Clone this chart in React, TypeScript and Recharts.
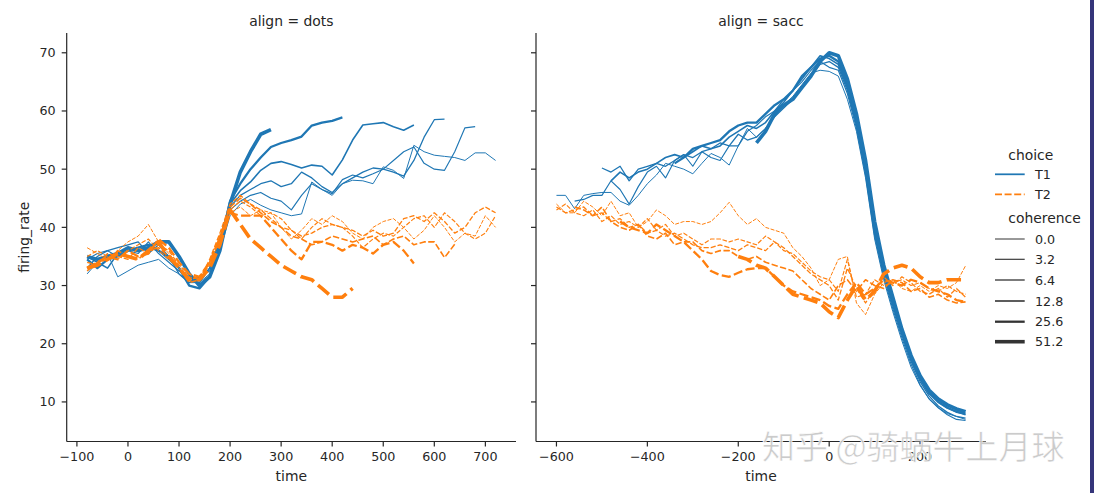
import React from "react";
import { LineChart, Line, XAxis, YAxis } from "recharts";

const N = null;

// ---- time axes ----
const dotsTime = [-80,-60,-40,-20,0,20,40,60,80,100,120,140,160,180,200,220,240,260,280,300,320,340,360,380,400,420,440,460,480,500,520,540,560,580,600,620,640,660,680,700,720];
const saccTime = [-600,-580,-560,-540,-520,-500,-480,-460,-440,-420,-400,-380,-360,-340,-320,-300,-280,-260,-240,-220,-200,-180,-160,-140,-120,-100,-80,-60,-40,-20,0,20,40,60,80,100,120,140,160,180,200,220,240,260,280,300];

const dotsTicks = [-100,0,100,200,300,400,500,600,700];
const saccTicks = [-600,-400,-200,0,200];
const yTicks = [10,20,30,40,50,60,70];
const coherenceLabels = ["0.0","3.2","6.4","12.8","25.6","51.2"];
const choiceLabels = ["T1","T2"];

// ---- align = dots, choice T1 ----
const dotsT1_00 = [32,34,35.5,31.5,32.5,33.5,34,34.5,33,32,30.5,30.5,32,36,42,44,44.8,43.8,43,42.5,42,42.3,47.8,46.5,45.5,47.5,48.1,48,47.5,50.4,49.8,48.4,54.1,53,52.4,52.2,52,51.5,52.8,52.8,51.5];
const dotsT1_32 = [34.5,35.5,36,35,36,35.5,37.5,35.5,34,32.5,31.5,31,33,37.5,43,44.5,45.5,46,45,44.5,43,45.5,47.5,46.5,45.8,48.2,49,48.5,49.2,50,51.5,53,53.8,51,50,49.8,53,57.1,57.3,N,N];
const dotsT1_64 = [33,35,36,36.5,37,37.5,35.5,37,35,32,30.5,31.5,32.5,37,43.5,45.5,46.5,47.5,48,47,47.5,49.5,48.5,47,46,47.5,48.5,49.5,50.2,50,49.5,48.8,51.5,55.5,58.5,58.6,N,N,N,N,N];
const dotsT1_128 = [35,34,33,35.5,36.5,36,36.5,36,34.5,33,31,30.5,33,38,44,46.3,47.8,49.8,51,51.3,50.8,50.2,50.7,50.5,49,51.6,55,57.6,57.8,58,57.3,56.7,57.6,N,N,N,N,N,N,N,N];
const dotsT1_256 = [34.5,33,34.5,35,36,36.5,37,36,35,33,30,29.5,31.5,37,44.5,47.5,50,52,53.8,54.5,55,55.6,57.5,58,58.3,58.9,N,N,N,N,N,N,N,N,N,N,N,N,N,N,N];
const dotsT1_512 = [35,34.5,35,35.5,36.5,36,36.5,37.5,37.5,35,32,30,31.5,36,44,49.5,53,56,56.8,N,N,N,N,N,N,N,N,N,N,N,N,N,N,N,N,N,N,N,N,N,N];

// ---- align = dots, choice T2 ----
const dotsT2_00 = [36.5,35.5,34.5,36,37.5,38.5,40.5,37.5,35.5,33.5,31.5,31,33.5,38,42.5,43.5,42,43,42.5,40,38,39.5,41.5,40.5,42,41,39,38,40,41,41.5,40,38,39.5,42,40,37.5,39,38.5,42,40];
const dotsT2_32 = [35,36,35,34.5,36,37,38,36,34.5,33,31,31.5,34,38.5,43,44.5,43.5,42,42.5,41.5,39.5,38,40,41.5,40.5,40,38.5,36.5,38,39,38.5,40,41.5,42,40,42.5,41,39,38,39,42];
const dotsT2_64 = [34,33.5,35.5,35,34.5,36.5,35.5,37,36,33.5,32,31,34.5,39,44,45.5,44,43,41.5,40,39.5,38.5,39,40,40.5,40,39.5,38.5,39.5,38.5,39,41.5,42,41,42.5,41,39,40,42.5,43.5,42.5];
const dotsT2_128 = [32.5,34,34.5,36,35,34.5,36,36.5,35,33,30.5,31,34,38.5,43.5,45,44,42.5,41,40,38.5,38,37,37.5,38.5,38,37.5,38,38.5,37,38,38.5,37,37.5,37.5,34.8,37.1,N,N,N,N];
const dotsT2_256 = [33,34,35,34.5,36,35,35.5,38,36.5,34,32,31.5,34,38,42.5,42,42,42,40,38,36,34.5,37.5,37.5,37,36,37,36.5,35.5,37,37.5,36,33.8,N,N,N,N,N,N,N,N];
const dotsT2_512 = [33,33.5,34.5,35.5,35,34.5,36,37.5,35,33,31,31,33,37,43,40.5,38,36.5,35,33.5,32.5,31.5,31,29.5,28,28,29.5,N,N,N,N,N,N,N,N,N,N,N,N,N,N];

// ---- align = sacc, choice T1 ----
const saccT1_00 = [45.5,45.5,43.2,45.5,45.8,46,46,44.5,43.8,45.5, 47.5,49,51,50.5,50,49.2,51,52.7,52,50.7, 54,57,55.5,57,59,61,62.5,64.5,66.5,67, 66.8,66,62,56.5,48.5,38,31,25.5,20.5,16, 12.8,10.5,9,8,7.5,7];
const saccT1_32 = [N,N,44.5,44.8,45.5,45.5,48,46.5,44,47, 49.5,50.5,48.5,51.5,52.5,50.5,53,52,51.5,54, 54,56.5,57.5,59,60,62,63.5,65,67,68.5, 67.5,67,63,57,49,38.5,31.5,26,21,16.5, 13,10.5,9,7.8,7,6.8];
const saccT1_64 = [N,N,N,N,N,50.2,49.5,50.5,48,50, 50.5,51,50.5,51.5,52.5,52,53,53.5,54.5,54, 56,55,55.5,57,59,60.5,62,64,66,68, 68.5,67.5,63.5,57.5,49.5,39,32,26.5,21.5,17, 13.5,11,9.3,8.2,7.5,7.2];
const saccT1_128 = [N,N,N,N,N,N,48,49.5,48.5,49.5, 50,51,52,52.5,52,53,54,53.5,54,55.5, 56.5,57.5,57,58,60,61.5,63.5,65.5,67.5,69.5, 69,68,64,58,50,39.5,32.5,27,22,17.5, 14,11.5,10,9,8.3,7.8];
const saccT1_256 = [N,N,N,N,N,N,N,N,N,N, N,N,N,51,52,53.5,54,54.5,55,56.5, 57.5,58,58,59.5,61,62,63.5,66,67.5,69, 69.5,68.5,64.5,58.5,50.5,40,32.5,27,22,17.5, 14,11.5,10,9,8.3,8];
const saccT1_512 = [N,N,N,N,N,N,N,N,N,N, N,N,N,N,N,N,N,N,N,N, N,N,54.5,56.5,59.5,61,62,64,66,68.5, 70,69.5,65.5,59.5,51.5,41,33.5,28,22.5,18, 14.5,12,10.5,9.5,8.8,8.3];

// ---- align = sacc, choice T2 ----
const saccT2_00 = [44,42.5,42.5,44.5,43.5,42,44.5,42,42.5,40, 41,43,42,40.5,41,41,40.5,41,42.5,44.3, 42,40.5,41.5,40,39.5,39,36.5,35,33,30, 31,34.5,35,27,25,28.5,30.5,31,29.5,29, 30,29,30,29.5,30.5,33.4];
const saccT2_32 = [43,44,42.5,42,43,41,42,40.5,41,40, 41.5,39.5,40.5,38.5,39,38,37,38,38,37.5, 38,37.5,37,38.5,37.5,36,35.5,34,32.5,31.5, 31,29,34.5,28,28.5,31,30,30.5,31,30, 30.5,29.5,29,30,29,28.5];
const saccT2_64 = [43.5,42.5,43,43.5,42,42.5,41,41.5,40,40.5, 39,39.5,38.5,39,38,37,36.5,36.5,37,36.5, 36,37,36.5,36,37.5,36.5,35,33.5,32,31, 30,27.5,33,29.5,27,29.5,31.5,30,31.5,30.5, 29,28.5,29.5,28,29.5,28];
const saccT2_128 = [N,N,43.5,43,42,43.5,41,40,39.5,40.5, 38.5,38,39,37,37.5,37.5,36,35.5,36,36, 35,34.5,35,34,33.5,33,32.5,31,29.5,28.5, 27.5,30,31,29,31,30,29.5,31,30.5,29, 29.5,28,28.5,27.5,27,27.2];
const saccT2_256 = [N,N,N,N,N,N,N,41,40,39.5, 39,40.5,39.5,38.5,37.5,36,34.5,32.5,31.8,31.5, 32.2,32.8,33,33,31.5,30,29,28.5,28,27.5, 26.5,26,28.5,30.5,28.5,29.5,31,30.5,30,31, 30.5,29.5,29,28.5,27.5,27.2];
const saccT2_512 = [N,N,N,N,N,N,N,N,N,N, N,N,N,N,N,N,N,N,N,N, 35,34.5,33.5,33,31.5,30,28.5,28,27.5,27, 25.5,24.5,27.5,30,27.5,29,32,33,33.5,33, 31.5,30.5,30.5,31,31,31];

// ---- assemble tables for recharts ----
const dotsT1 = [dotsT1_00, dotsT1_32, dotsT1_64, dotsT1_128, dotsT1_256, dotsT1_512];
const dotsT2 = [dotsT2_00, dotsT2_32, dotsT2_64, dotsT2_128, dotsT2_256, dotsT2_512];
const saccT1 = [saccT1_00, saccT1_32, saccT1_64, saccT1_128, saccT1_256, saccT1_512];
const saccT2 = [saccT2_00, saccT2_32, saccT2_64, saccT2_128, saccT2_256, saccT2_512];

function buildTable(time: number[], t1: (number | null)[][], t2: (number | null)[][]) {
  return time.map((t, i) => {
    const row: any = { t };
    t1.forEach((s, k) => (row[`T1_${k}`] = s[i]));
    t2.forEach((s, k) => (row[`T2_${k}`] = s[i]));
    return row;
  });
}

const dotsData = buildTable(dotsTime, dotsT1, dotsT2);
const saccData = buildTable(saccTime, saccT1, saccT2);

// ---- styles ----
const BLUE = "#1f77b4";
const ORANGE = "#ff7f0e";
const INK = "#262626";
const FONT = "DejaVu Sans, sans-serif";
const WIDTHS = [1.0, 1.15, 1.3, 1.6, 2.3, 3.6];

const fmt = (v: number) => (v < 0 ? "\u2212" + Math.abs(v) : String(v));

function seriesLines() {
  const out: any[] = [];
  choiceLabels.forEach((c) => {
    coherenceLabels.forEach((_, k) => {
      const w = WIDTHS[k];
      const dashed = c === "T2";
      out.push(
        <Line
          key={`${c}_${k}`}
          dataKey={`${c}_${k}`}
          type="linear"
          stroke={dashed ? ORANGE : BLUE}
          strokeWidth={w}
          strokeDasharray={dashed ? `${4 * w} ${1.5 * w}` : undefined}
          strokeLinejoin="round"
          dot={false}
          activeDot={false}
          connectNulls={false}
          isAnimationActive={false}
        />
      );
    });
  });
  return out;
}

const axisStroke = { stroke: INK, strokeWidth: 1.2 };
const tickStyle = { fill: INK, fontSize: 12.7, fontFamily: FONT };

export default function App() {
  const legendRows = [239, 259.3, 280, 301, 321.7, 341.7];
  return (
    <div style={{ position: "absolute", left: 0, top: 0, width: 1094, height: 493, background: "#fff", overflow: "hidden" }}>
      <div style={{ position: "absolute", left: 0, top: 0 }}>
        <LineChart width={530} height={493} data={dotsData} margin={{ top: 33, right: 14, bottom: 21.5, left: 26.7 }}>
          <XAxis
            type="number"
            dataKey="t"
            domain={[-120, 760]}
            ticks={dotsTicks}
            interval={0}
            tickFormatter={fmt}
            height={30}
            tickSize={5}
            tickMargin={5}
            axisLine={axisStroke}
            tickLine={axisStroke}
            tick={tickStyle}
            allowDataOverflow
          />
          <YAxis
            type="number"
            domain={[3.2, 73.4]}
            ticks={yTicks}
            interval={0}
            width={40}
            tickSize={5}
            tickMargin={6}
            axisLine={axisStroke}
            tickLine={axisStroke}
            tick={tickStyle}
            allowDataOverflow
          />
          {seriesLines()}
        </LineChart>
      </div>
      <div style={{ position: "absolute", left: 500, top: 0 }}>
        <LineChart width={500} height={493} data={saccData} margin={{ top: 33, right: 14, bottom: 21.5, left: 6 }}>
          <XAxis
            type="number"
            dataKey="t"
            domain={[-645, 345]}
            ticks={saccTicks}
            interval={0}
            tickFormatter={fmt}
            height={30}
            tickSize={5}
            tickMargin={5}
            axisLine={axisStroke}
            tickLine={axisStroke}
            tick={tickStyle}
            allowDataOverflow
          />
          <YAxis
            type="number"
            domain={[3.2, 73.4]}
            ticks={yTicks}
            interval={0}
            width={30}
            tickSize={5}
            tickMargin={6}
            tickFormatter={() => ""}
            axisLine={axisStroke}
            tickLine={axisStroke}
            tick={tickStyle}
            allowDataOverflow
          />
          {seriesLines()}
        </LineChart>
      </div>
      <svg width={1094} height={493} style={{ position: "absolute", left: 0, top: 0, pointerEvents: "none" }}>
        <g fontFamily={FONT} fill={INK}>
          <text x={291.3} y={25.5} fontSize={13.9} textAnchor="middle">align = dots</text>
          <text x={761} y={25.5} fontSize={13.9} textAnchor="middle">align = sacc</text>
          <text x={291.3} y={481} fontSize={13.9} textAnchor="middle">time</text>
          <text x={761} y={481} fontSize={13.9} textAnchor="middle">time</text>
          <text x={29.5} y={237.3} fontSize={13.9} textAnchor="middle" transform="rotate(-90 29.5 237.3)">firing_rate</text>
          {/* legend */}
          <text x={1008.3} y={160.3} fontSize={13.9}>choice</text>
          <line x1={995} x2={1024.7} y1={174.3} y2={174.3} stroke={BLUE} strokeWidth={1.75} />
          <text x={1035} y={179} fontSize={12.7}>{choiceLabels[0]}</text>
          <line x1={995} x2={1024.7} y1={194.3} y2={194.3} stroke={ORANGE} strokeWidth={1.75} strokeDasharray="7 2.6" />
          <text x={1035} y={199} fontSize={12.7}>{choiceLabels[1]}</text>
          <text x={1008.3} y={222.5} fontSize={13.9}>coherence</text>
          {coherenceLabels.map((lab, k) => (
            <g key={lab}>
              <line x1={995} x2={1024.7} y1={legendRows[k]} y2={legendRows[k]} stroke="#333333" strokeWidth={WIDTHS[k]} />
              <text x={1035} y={legendRows[k] + 4.6} fontSize={12.7}>{lab}</text>
            </g>
          ))}
        </g>
        <text x={762} y={459} fontSize={33} fontFamily="Noto Sans CJK SC, sans-serif" fill="#c4c4c4" fillOpacity={0.9} stroke="#ffffff" strokeWidth={0.6}>知乎 @骑蜗牛上月球</text>
        <rect x={1090} y={0} width={4} height={493} fill="#35357a" />
      </svg>
    </div>
  );
}
